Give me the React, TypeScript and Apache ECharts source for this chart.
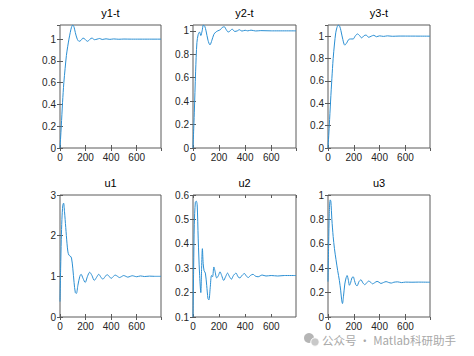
import React, { useEffect, useRef } from "react";
import * as echarts from "echarts";

const titles = ["y1-t", "y2-t", "y3-t", "u1", "u2", "u3"];

const y1T = [0, 10, 20, 30, 40, 50, 60, 70, 80, 90, 100, 110, 120, 135, 150, 165, 180, 195, 215, 235, 250, 270, 290, 310, 330, 360, 390, 420, 460, 500, 560, 790];
const y1V = [0, 0.2, 0.42, 0.6, 0.73, 0.85, 0.93, 1.0, 1.06, 1.11, 1.13, 1.11, 1.06, 1.0, 0.98, 0.99, 1.01, 1.0, 0.98, 1.0, 1.01, 0.995, 1.0, 1.006, 0.997, 1.003, 0.998, 1.002, 0.999, 1.001, 1.0, 1.0];

const y2T = [0, 10, 20, 30, 40, 50, 60, 70, 80, 90, 100, 115, 130, 145, 160, 175, 190, 210, 225, 240, 255, 270, 285, 300, 320, 340, 355, 375, 400, 420, 445, 480, 520, 600, 790];
const y2V = [0, 0.3, 0.65, 0.9, 0.97, 0.99, 0.96, 1.0, 1.05, 1.04, 1.0, 0.92, 0.88, 0.92, 0.97, 0.99, 1.0, 1.01, 1.03, 1.035, 1.01, 0.99, 1.0, 1.015, 0.995, 1.0, 1.01, 0.998, 1.005, 1.0, 1.006, 0.999, 1.002, 1.0, 1.0];

const y3T = [0, 10, 20, 30, 40, 50, 60, 70, 80, 90, 100, 115, 130, 145, 160, 175, 195, 210, 228, 245, 260, 280, 295, 315, 335, 355, 375, 400, 430, 460, 500, 550, 790];
const y3V = [0, 0.2, 0.42, 0.62, 0.8, 0.93, 1.03, 1.08, 1.1, 1.09, 1.05, 0.97, 0.92, 0.94, 0.97, 0.975, 0.975, 1.0, 1.02, 1.005, 0.985, 1.005, 1.01, 0.99, 1.0, 1.008, 0.995, 1.003, 0.998, 1.003, 0.999, 1.001, 1.0];

const u1T = [0, 5, 10, 15, 22, 28, 35, 45, 55, 62, 70, 80, 90, 100, 110, 120, 128, 140, 155, 165, 180, 197, 215, 232, 250, 268, 285, 303, 320, 335, 350, 368, 385, 400, 415, 432, 450, 465, 480, 498, 515, 530, 550, 565, 585, 600, 630, 660, 700, 740, 790];
const u1V = [0.38, 1.2, 1.9, 2.4, 2.75, 2.8, 2.6, 2.2, 1.8, 1.6, 1.52, 1.5, 1.45, 1.2, 0.85, 0.6, 0.58, 0.78, 1.0, 1.05, 0.95, 0.85, 1.0, 1.1, 1.02, 0.9, 0.97, 1.05, 0.98, 0.93, 0.98, 1.04, 1.0, 0.95, 0.99, 1.03, 1.0, 0.97, 0.99, 1.02, 1.0, 0.98, 1.0, 1.015, 1.0, 0.99, 1.01, 0.995, 1.005, 1.0, 1.0];

const u2T = [0, 5, 10, 18, 25, 32, 40, 50, 60, 66, 72, 78, 85, 95, 105, 115, 122, 132, 142, 150, 160, 168, 182, 195, 207, 220, 235, 250, 265, 280, 295, 310, 330, 345, 360, 375, 395, 410, 425, 440, 460, 480, 500, 530, 560, 600, 650, 700, 790];
const u2V = [0.1, 0.3, 0.48, 0.57, 0.575, 0.56, 0.42, 0.28, 0.2, 0.3, 0.38, 0.32, 0.29, 0.28, 0.23, 0.175, 0.17, 0.22, 0.27, 0.265, 0.305, 0.29, 0.26, 0.27, 0.285, 0.27, 0.25, 0.265, 0.28, 0.265, 0.255, 0.27, 0.28, 0.265, 0.26, 0.27, 0.278, 0.267, 0.262, 0.27, 0.275, 0.267, 0.265, 0.272, 0.268, 0.27, 0.268, 0.27, 0.27];

const u3T = [0, 5, 10, 17, 22, 30, 40, 50, 62, 75, 88, 98, 106, 112, 120, 130, 140, 148, 158, 166, 175, 185, 195, 205, 215, 225, 240, 255, 270, 285, 300, 315, 330, 345, 360, 380, 395, 410, 430, 450, 470, 490, 510, 540, 570, 600, 650, 700, 790];
const u3V = [0.29, 0.6, 0.85, 0.96, 0.95, 0.8, 0.66, 0.56, 0.47, 0.38, 0.3, 0.22, 0.14, 0.11, 0.17, 0.27, 0.32, 0.34, 0.3, 0.26, 0.28, 0.32, 0.33, 0.3, 0.265, 0.255, 0.29, 0.305, 0.28, 0.265, 0.28, 0.295, 0.285, 0.272, 0.28, 0.292, 0.285, 0.275, 0.283, 0.29, 0.283, 0.278, 0.285, 0.288, 0.282, 0.286, 0.285, 0.286, 0.285];

const seriesT = [y1T, y2T, y3T, u1T, u2T, u3T];
const seriesV = [y1V, y2V, y3V, u1V, u2V, u3V];
const yMins = [0, 0, 0, 0, 0.1, 0];
const yMaxs = [1.13, 1.05, 1.1, 3, 0.6, 1];
const yIntervals = [0.2, 0.2, 0.2, 1, 0.1, 0.2];
const xMax = 790;
const xInterval = 200;

const lefts = [60, 193, 328];
const widths = [101, 103, 102];
const tops = [25, 195];
const heights = [123, 122];

export default function App() {
  const ref = useRef<HTMLDivElement>(null);
  useEffect(() => {
    if (!ref.current) return;
    const chart = echarts.init(ref.current, undefined, { renderer: "svg" });
    const axisColor = "#5a5a5a";
    const labelColor = "#262626";
    const font = "Liberation Sans, Arial, sans-serif";
    const grids: any[] = [];
    const xAxes: any[] = [];
    const yAxes: any[] = [];
    const series: any[] = [];
    const title: any[] = [];
    for (let i = 0; i < 6; i++) {
      const r = Math.floor(i / 3);
      const c = i % 3;
      grids.push({
        left: lefts[c],
        top: tops[r],
        width: widths[c],
        height: heights[r],
        show: true,
        borderColor: axisColor,
        borderWidth: 1,
        backgroundColor: "#fff",
      });
      title.push({
        text: titles[i],
        left: lefts[c] + widths[c] / 2,
        top: tops[r] - 18,
        padding: 0,
        textAlign: "center",
        textStyle: { fontSize: 11, fontWeight: "normal", color: "#000", fontFamily: font },
      });
      const xBase = {
        type: "value",
        gridIndex: i,
        min: 0,
        max: xMax,
        interval: xInterval,
        splitLine: { show: false },
        axisLine: { show: false },
        axisTick: { show: true, inside: true, length: 3, lineStyle: { color: axisColor } },
      };
      xAxes.push({
        ...xBase,
        position: "bottom",
        axisLabel: { show: true, margin: 4, fontSize: 10, color: labelColor, fontFamily: font, showMaxLabel: false },
      });
      xAxes.push({ ...xBase, position: "top", axisLabel: { show: false } });
      const yBase = {
        type: "value",
        gridIndex: i,
        min: yMins[i],
        max: yMaxs[i],
        interval: yIntervals[i],
        splitLine: { show: false },
        axisLine: { show: false },
        axisTick: { show: true, inside: true, length: 3, lineStyle: { color: axisColor } },
      };
      yAxes.push({
        ...yBase,
        position: "left",
        axisLabel: {
          show: true,
          margin: 4,
          fontSize: 10,
          color: labelColor,
          fontFamily: font,
          showMaxLabel: Math.abs(Math.round(yMaxs[i] / yIntervals[i]) * yIntervals[i] - yMaxs[i]) < 1e-9,
        },
      });
      yAxes.push({ ...yBase, position: "right", axisLabel: { show: false } });
      const t = seriesT[i];
      const v = seriesV[i];
      series.push({
        type: "line",
        xAxisIndex: i * 2,
        yAxisIndex: i * 2,
        data: t.map((tt, k) => [tt, v[k]]),
        showSymbol: false,
        smooth: 0.3,
        lineStyle: { color: "#2b8fd3", width: 1 },
        clip: true,
      });
    }
    chart.setOption({
      animation: false,
      backgroundColor: "#fff",
      title,
      grid: grids,
      xAxis: xAxes,
      yAxis: yAxes,
      series,
      graphic: [
        { type: "circle", shape: { cx: 309, cy: 338, r: 5 }, style: { fill: "#b5b5b5" } },
        { type: "circle", shape: { cx: 315, cy: 342, r: 4.2 }, style: { fill: "#c8c8c8", stroke: "#fff", lineWidth: 1 } },
        {
          type: "text",
          left: 322,
          top: 334,
          style: { text: "公众号 · Matlab科研助手", fontSize: 11.5, fill: "#a8a8a8", fontFamily: "Noto Sans CJK SC, sans-serif" },
        },
      ],
    });
    return () => chart.dispose();
  }, []);
  return <div ref={ref} style={{ position: "fixed", left: 0, top: 0, width: 474, height: 356 }} />;
}
